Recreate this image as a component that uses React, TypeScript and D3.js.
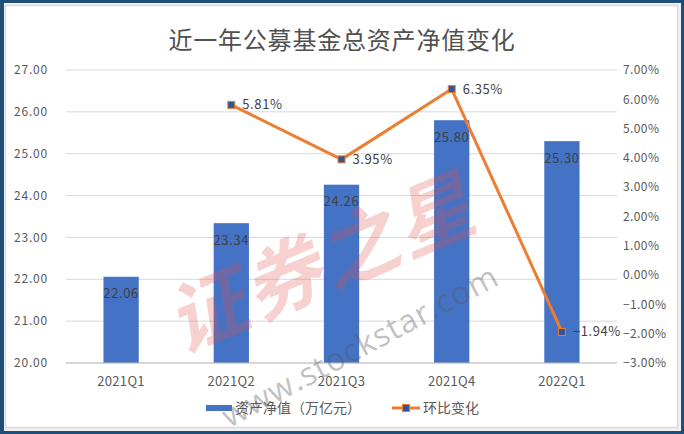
import * as d3 from "d3";

const W = 684;
const H = 434;

const quarters = ["2021Q1", "2021Q2", "2021Q3", "2021Q4", "2022Q1"];
const netAssets = [22.06, 23.34, 24.26, 25.8, 25.3];
const qoqChange: (number | null)[] = [null, 5.81, 3.95, 6.35, -1.94];
const leftTicks = [20, 21, 22, 23, 24, 25, 26, 27];
const rightTicks = [-3, -2, -1, 0, 1, 2, 3, 4, 5, 6, 7];

const title = "近一年公募基金总资产净值变化";
const barName = "资产净值（万亿元）";
const lineName = "环比变化";

const plot = { left: 66, right: 617, top: 70, bottom: 363 };
const font = "'Noto Sans CJK SC', 'Noto Sans', sans-serif";
const barColor = "#4472c4";
const lineColor = "#ed7d31";
const markerFill = "#2f5597";
const textColor = "#595959";

const x = d3
  .scaleBand<string>()
  .domain(quarters)
  .range([plot.left, plot.right])
  .paddingInner(0.68)
  .paddingOuter(0.34);
const yLeft = d3.scaleLinear().domain([20, 27]).range([plot.bottom, plot.top]);
const yRight = d3.scaleLinear().domain([-3, 7]).range([plot.bottom, plot.top]);

const cx = (q: string) => (x(q) ?? 0) + x.bandwidth() / 2;
const f2 = d3.format(".2f");
const pct = (v: number) => (v < 0 ? "−" : "") + f2(Math.abs(v)) + "%";

type LinePt = { q: string; v: number | null };
const linePts: LinePt[] = quarters.map((q, i) => ({ q, v: qoqChange[i] }));

const linePath = d3
  .line<LinePt>()
  .defined((d) => d.v !== null)
  .x((d) => cx(d.q))
  .y((d) => yRight(d.v as number));

const App = () => {
  return (
    <svg
      width={W}
      height={H}
      style={{ position: "fixed", left: 0, top: 0, display: "block" }}
      fontFamily={font}
    >
      {/* frame */}
      <rect x={0} y={0} width={W} height={H} fill="#1f4e79" />
      <rect x={4} y={3} width={677} height={428} fill="#f0f0f0" />
      <rect
        x={5.5}
        y={5.5}
        width={672}
        height={422}
        fill="#ffffff"
        stroke="#d9d9d9"
        strokeWidth={1.5}
      />

      <text
        x={342}
        y={49}
        textAnchor="middle"
        fontSize={24}
        fill="#505050"
        letterSpacing={0.8}
      >
        {title}
      </text>

      {/* gridlines */}
      {leftTicks.map((t) => (
        <line
          key={t}
          x1={plot.left}
          x2={plot.right}
          y1={yLeft(t)}
          y2={yLeft(t)}
          stroke="#d9d9d9"
          strokeWidth={1}
        />
      ))}

      {/* left axis */}
      {leftTicks.map((t) => (
        <text
          key={t}
          x={48}
          y={yLeft(t)}
          dy="0.35em"
          textAnchor="end"
          fontSize={12}
          letterSpacing={0.8}
          fill={textColor}
        >
          {f2(t)}
        </text>
      ))}

      {/* right axis */}
      {rightTicks.map((t) => (
        <text
          key={t}
          x={623}
          y={yRight(t)}
          dy="0.35em"
          fontSize={12}
          letterSpacing={0.4}
          fill={textColor}
        >
          {pct(t)}
        </text>
      ))}

      {/* bars */}
      {quarters.map((q, i) => (
        <rect
          key={q}
          x={x(q)}
          y={yLeft(netAssets[i])}
          width={x.bandwidth()}
          height={yLeft(20) - yLeft(netAssets[i])}
          fill={barColor}
        />
      ))}
      {quarters.map((q, i) => (
        <text
          key={q}
          x={cx(q)}
          y={yLeft(netAssets[i]) + 17}
          dy="0.35em"
          textAnchor="middle"
          fontSize={13}
          letterSpacing={0.6}
          fill="#404040"
        >
          {f2(netAssets[i])}
        </text>
      ))}

      <line
        x1={plot.left}
        x2={plot.right}
        y1={plot.bottom}
        y2={plot.bottom}
        stroke="#bfbfbf"
      />

      {/* x labels */}
      {quarters.map((q) => (
        <text
          key={q}
          x={cx(q)}
          y={381}
          dy="0.35em"
          textAnchor="middle"
          fontSize={13}
          letterSpacing={0.3}
          fill={textColor}
        >
          {q}
        </text>
      ))}

      {/* qoq line */}
      <path
        d={linePath(linePts) ?? ""}
        fill="none"
        stroke={lineColor}
        strokeWidth={3}
        strokeLinejoin="round"
      />
      {linePts
        .filter((d) => d.v !== null)
        .map((d) => (
          <g key={d.q}>
            <rect
              x={cx(d.q) - 3.5}
              y={yRight(d.v as number) - 3.5}
              width={7}
              height={7}
              fill={markerFill}
              stroke={lineColor}
              strokeWidth={1}
            />
            <text
              x={cx(d.q) + 11}
              y={yRight(d.v as number)}
              dy="0.35em"
              fontSize={13}
              letterSpacing={0.6}
              fill="#404040"
            >
              {pct(d.v as number)}
            </text>
          </g>
        ))}

      {/* watermark */}
      <g transform="translate(322,264) rotate(-23)" pointerEvents="none">
        <text
          textAnchor="middle"
          dy="0.35em"
          fontSize={78}
          fontWeight={700}
          fontStyle="italic"
          fill="rgba(225,80,80,0.27)"
          letterSpacing={4}
        >
          证券之星
        </text>
      </g>
      <g transform="translate(360,346) rotate(-28)" pointerEvents="none">
        <text
          textAnchor="middle"
          dy="0.35em"
          fontSize={32}
          fontFamily="'Open Sans', sans-serif"
          fill="rgba(90,90,90,0.38)"
          letterSpacing={1}
        >
          www.stockstar.com
        </text>
      </g>

      {/* legend */}
      <rect x={206} y={405} width={26} height={6} fill={barColor} />
      <text x={235} y={408} dy="0.35em" fontSize={14} fill={textColor}>
        {barName}
      </text>
      <line
        x1={392}
        x2={420}
        y1={408}
        y2={408}
        stroke={lineColor}
        strokeWidth={3}
      />
      <rect
        x={402.5}
        y={404.5}
        width={7}
        height={7}
        fill={markerFill}
        stroke={lineColor}
        strokeWidth={1}
      />
      <text x={423} y={408} dy="0.35em" fontSize={14} fill={textColor}>
        {lineName}
      </text>
    </svg>
  );
};

export default App;
